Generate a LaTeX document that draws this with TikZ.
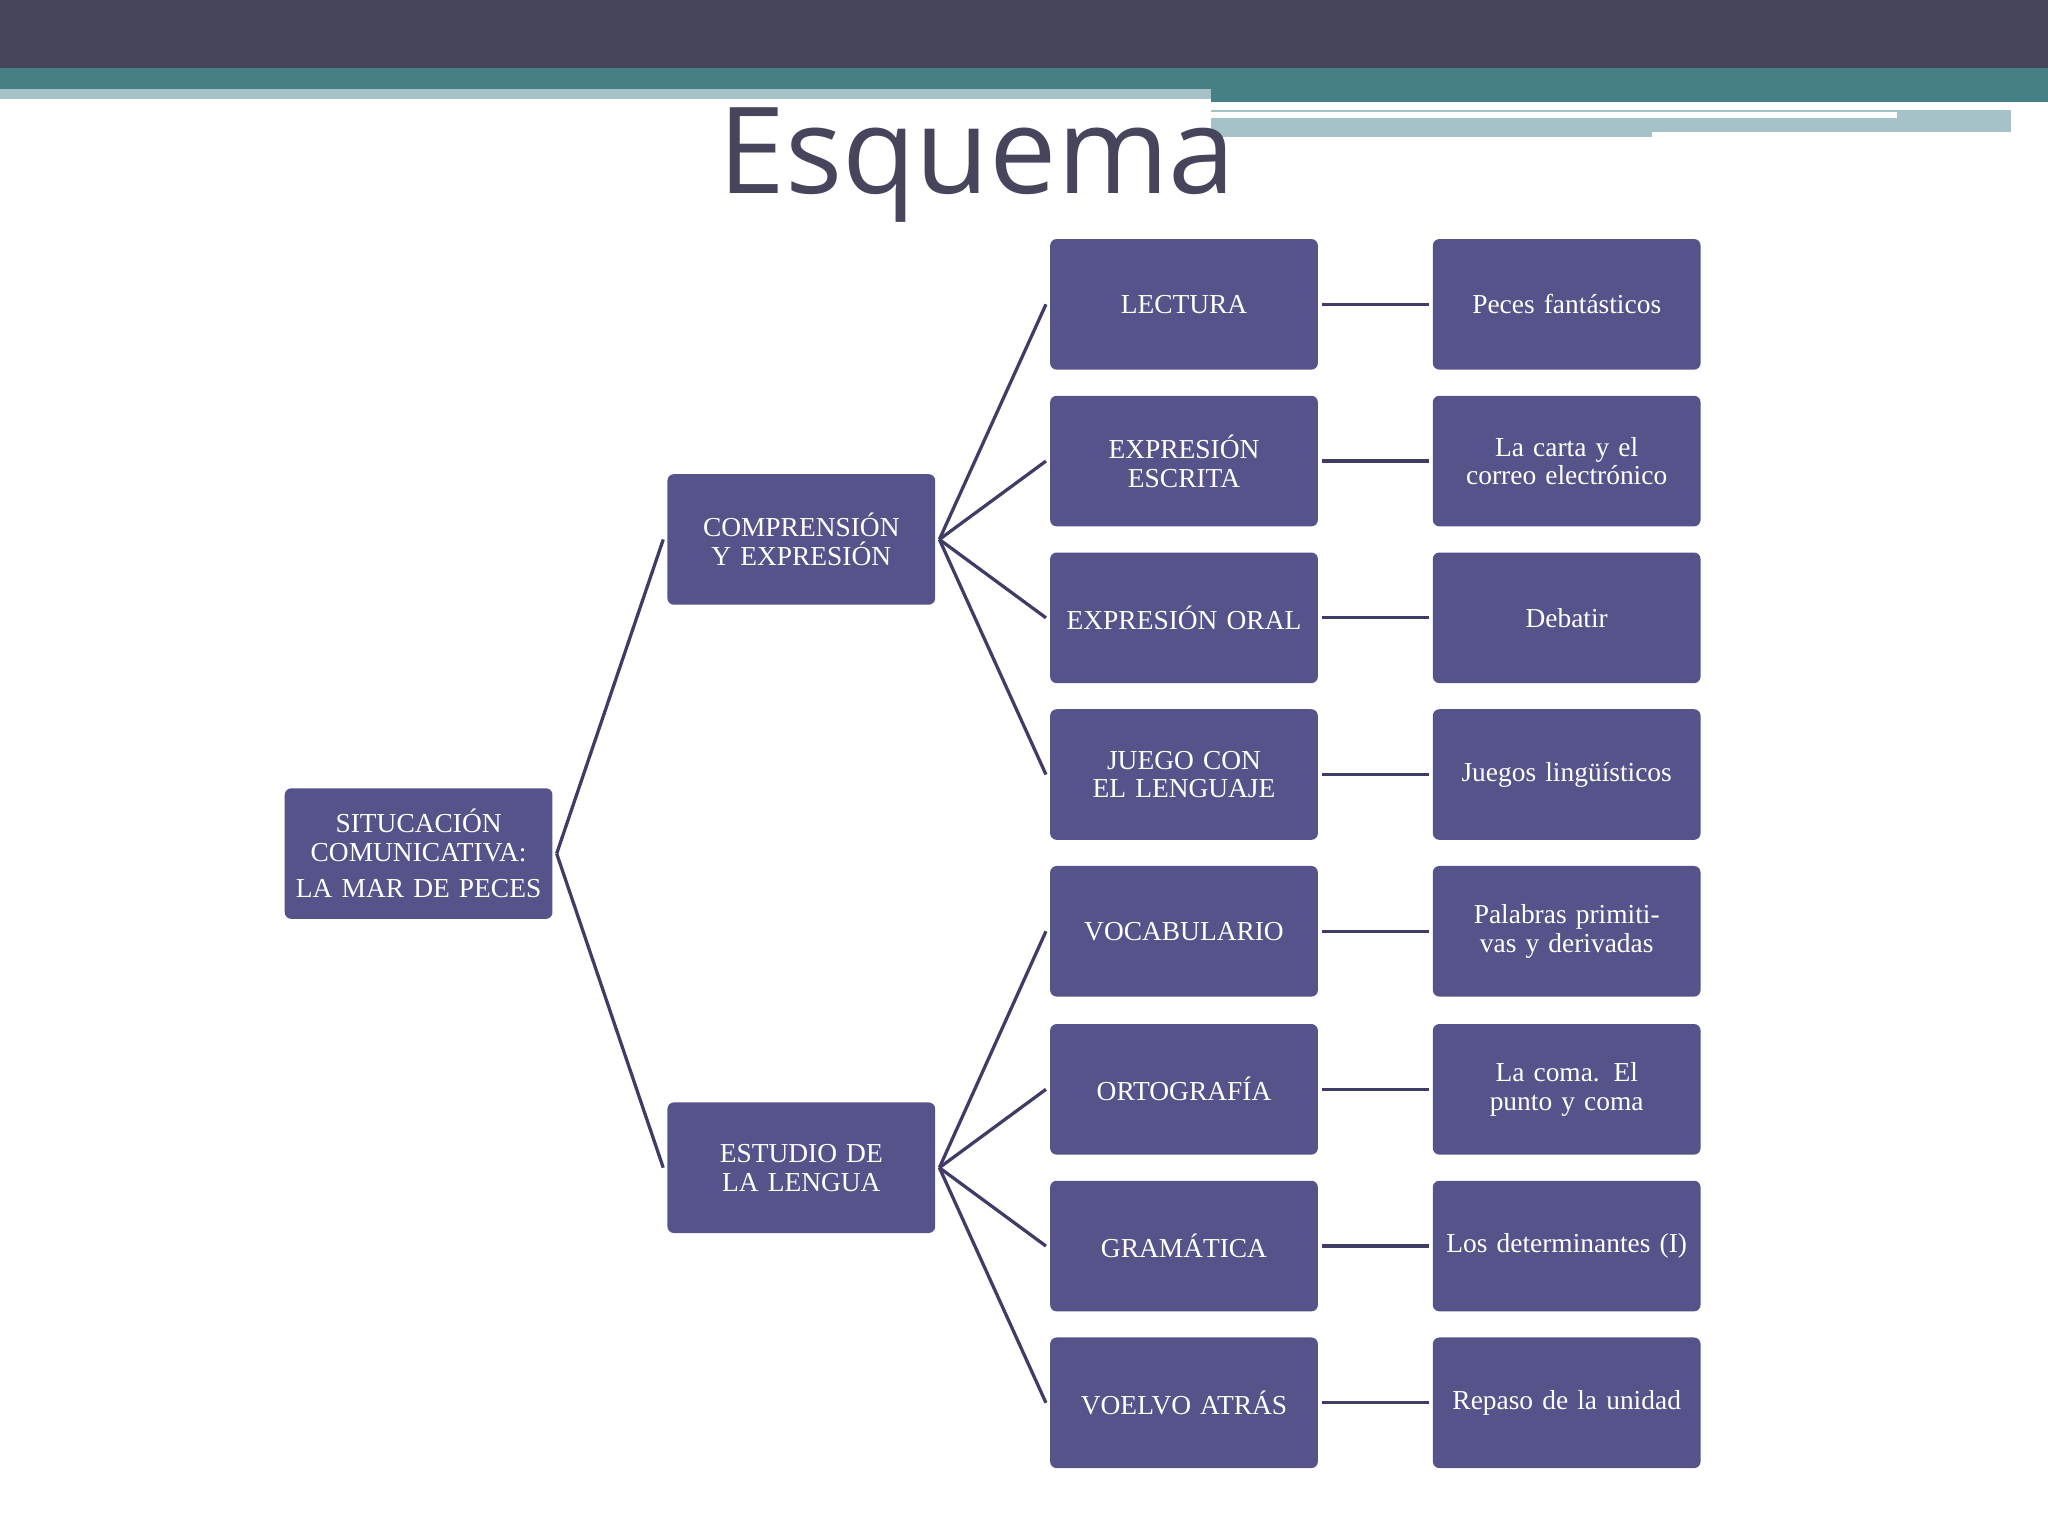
\documentclass[tikz,border=0pt]{standalone}
\usepackage{fontspec}
\setmainfont{Liberation Serif}
\newfontfamily\titlefont{Open Sans}
\definecolor{boxc}{HTML}{55538A}
\definecolor{linec}{HTML}{3F3D66}
\definecolor{darkb}{HTML}{46455C}
\definecolor{tealb}{HTML}{467F86}
\definecolor{lightb}{HTML}{A5C2C8}
\begin{document}
\begin{tikzpicture}[x=1pt,y=-1pt,
 bx/.style={draw=none,fill=boxc,rounded corners=5pt,minimum width=205pt,minimum height=100pt,text width=200pt,align=center,text=white,font=\fontsize{21}{22}\selectfont,inner sep=0pt},
 ln/.style={draw=linec,line width=2.5pt}]
\useasboundingbox (0,0) rectangle (1568,1176);
\fill[white] (0,0) rectangle (1568,1176);
\fill[darkb] (0,0) rectangle (1568,52);
\fill[tealb] (0,52) rectangle (1568,68);
\fill[lightb] (0,68) rectangle (927,76);
\fill[tealb] (927,68) rectangle (1568,78);
\fill[lightb] (927,84) rectangle (1540,105);
\fill[white] (927,86) rectangle (1452,90);
\fill[white] (1265,101) rectangle (1540,106);
\node[text=darkb,font=\titlefont\fontsize{92}{92}\selectfont] (t) at (748,126) {Esquema};
\node[bx] (s) at (320.5,653.5) {SITUCACIÓN COMUNICATIVA:\\[6pt]LA MAR DE PECES};
\node[bx] (c) at (613.5,413) {COMPRENSIÓN Y EXPRESIÓN};
\node[bx] (e) at (613.5,894) {ESTUDIO DE LA LENGUA};
\foreach \n/\y/\a/\b in {a1/233/LECTURA/Peces fantásticos,
 a2/353/EXPRESIÓN ESCRITA/La carta y el correo electrónico,
 a3/473/EXPRESIÓN ORAL/Debatir,
 a4/593/JUEGO CON EL LENGUAJE/Juegos lingüísticos,
 a5/713/VOCABULARIO/Palabras primitivas y derivadas,
 a6/834/ORTOGRAFÍA/La coma. El punto y coma,
 a7/954/GRAMÁTICA/Los determinantes (I),
 a8/1074/VOELVO ATRÁS/Repaso de la unidad}{
 \node[bx] (\n) at (906.5,\y) {\a};
 \node[bx] (\n r) at (1199.5,\y) {\b};
 \draw[ln] ([xshift=3pt]\n.east) -- ([xshift=-3pt]\n r.west);
}
\draw[ln] ([xshift=3pt]s.east) -- ([xshift=-3pt]c.west);
\draw[ln] ([xshift=3pt]s.east) -- ([xshift=-3pt]e.west);
\foreach \n in {a1,a2,a3,a4}{\draw[ln] ([xshift=3pt]c.east) -- ([xshift=-3pt]\n.west);}
\foreach \n in {a5,a6,a7,a8}{\draw[ln] ([xshift=3pt]e.east) -- ([xshift=-3pt]\n.west);}
\end{tikzpicture}
\end{document}
